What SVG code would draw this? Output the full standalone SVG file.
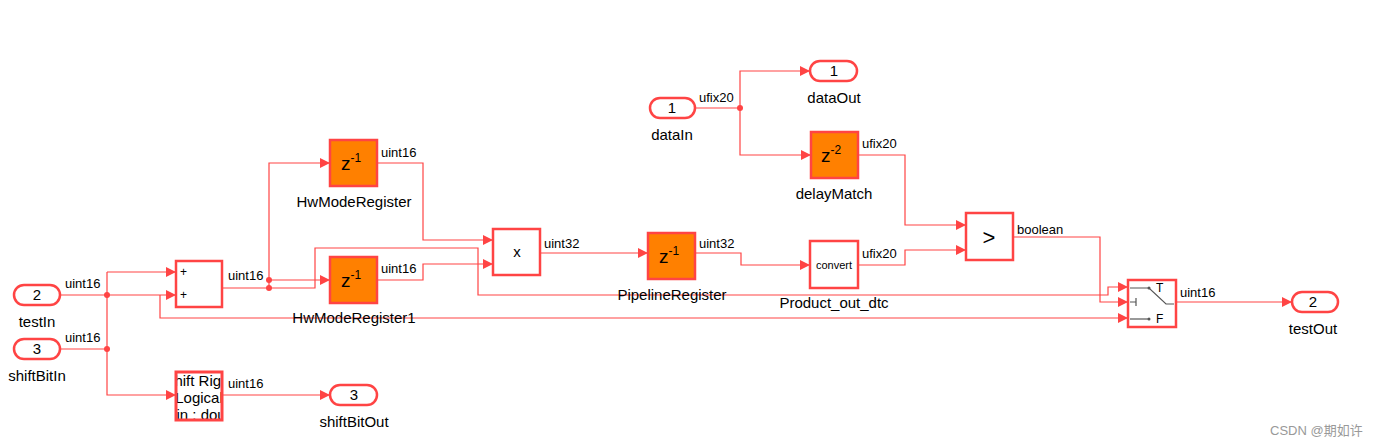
<svg xmlns="http://www.w3.org/2000/svg" width="1386" height="447" viewBox="0 0 1386 447">
<style>
text{font-family:"Liberation Sans",Arial,sans-serif;fill:#000}
.b{fill:#fff;stroke:#f44;stroke-width:2.5}
.o{fill:#ff8000;stroke:#f44;stroke-width:2.5}
.p{fill:#fff;stroke:#f44;stroke-width:2.5}
.w{fill:none;stroke:#f44;stroke-width:1.2}
.l{font-size:13px}
.n{font-size:15px;text-anchor:middle}
.s{font-size:12px}
.z{font-size:19px}
</style>
<defs><marker id="a" viewBox="0 0 10 10" refX="10" refY="5" markerWidth="10" markerHeight="10" markerUnits="userSpaceOnUse" orient="auto"><path d="M0,0L10,5L0,10z" fill="#f44"/></marker></defs>
<g id="connectors" class="w">
<g marker-end="url(#a)">
<path d="M60,295H176"/>
<path d="M107,272H176"/>
<path d="M107,349V395H176"/>
<path d="M160,295V318H1128"/>
<path d="M222,288H269V280H330"/>
<path d="M269,280V163H330"/>
<path d="M269,288H315V248H478V295H1108V287H1128"/>
<path d="M377,163H423V240H493"/>
<path d="M377,280H423V264H493"/>
<path d="M540,253H648"/>
<path d="M695,253H741V265H810"/>
<path d="M858,265H905V250H966"/>
<path d="M858,155H905V225H966"/>
<path d="M695,108H740V71H810"/>
<path d="M740,108V155H811"/>
<path d="M1013,237H1100V302H1128"/>
<path d="M1176,302H1292"/>
<path d="M222,395H330"/>
</g>
<path d="M107,272V349"/>
<path d="M60,349H107"/>
</g>
<g fill="#f44"><circle cx="107" cy="295" r="3"/><circle cx="107" cy="349" r="3"/><circle cx="269" cy="280" r="3"/><circle cx="269" cy="288" r="3"/><circle cx="740" cy="108" r="3"/></g>
<g id="testIn"><rect class="p" x="14" y="285" width="46" height="20" rx="10"/><text class="n" x="37" y="300">2</text><text class="n" x="37" y="327">testIn</text></g>
<g id="shiftBitIn"><rect class="p" x="14" y="339" width="46" height="20" rx="10"/><text class="n" x="37" y="354">3</text><text class="n" x="37" y="381">shiftBitIn</text></g>
<g id="sum"><rect class="b" x="176" y="261" width="46" height="46"/><text class="s" x="180" y="276">+</text><text class="s" x="180" y="299">+</text></g>
<g id="shift"><svg x="177" y="373" width="44" height="46" overflow="hidden"><text class="n" x="22" y="13">Shift Right</text><text class="n" x="22" y="30">Logical</text><text class="n" x="22" y="47">din : dout</text></svg><rect x="176" y="372" width="46" height="48" style="fill:none;stroke:#f44;stroke-width:3"/></g>
<g id="shiftBitOut"><rect class="p" x="330" y="385" width="47" height="20" rx="10"/><text class="n" x="354" y="400">3</text><text class="n" x="354" y="427">shiftBitOut</text></g>
<g id="HwModeRegister"><rect class="o" x="330" y="140" width="47" height="46"/><text class="z" x="341" y="170">z<tspan font-size="12" dy="-8">-1</tspan></text><text class="n" x="354" y="207">HwModeRegister</text></g>
<g id="HwModeRegister1"><rect class="o" x="330" y="257" width="47" height="46"/><text class="z" x="341" y="287">z<tspan font-size="12" dy="-8">-1</tspan></text><text class="n" x="354" y="323">HwModeRegister1</text></g>
<g id="product"><rect class="b" x="493" y="229" width="47" height="46"/><text class="n" x="517" y="257">x</text></g>
<g id="PipelineRegister"><rect class="o" x="648" y="233" width="47" height="46"/><text class="z" x="659" y="263">z<tspan font-size="12" dy="-8">-1</tspan></text><text class="n" x="672" y="300">PipelineRegister</text></g>
<g id="convert"><rect class="b" x="810" y="241" width="48" height="47"/><text x="834" y="269" font-size="11" text-anchor="middle">convert</text><text class="n" x="834" y="308">Product_out_dtc</text></g>
<g id="dataIn"><rect class="p" x="650" y="98" width="45" height="20" rx="10"/><text class="n" x="672" y="113">1</text><text class="n" x="672" y="140">dataIn</text></g>
<g id="dataOut"><rect class="p" x="810" y="61" width="47" height="20" rx="10"/><text class="n" x="834" y="76">1</text><text class="n" x="834" y="103">dataOut</text></g>
<g id="delayMatch"><rect class="o" x="811" y="132" width="47" height="46"/><text class="z" x="821" y="162">z<tspan font-size="12" dy="-8">-2</tspan></text><text class="n" x="834" y="199">delayMatch</text></g>
<g id="compare"><rect class="b" x="966" y="213" width="47" height="47"/><text x="989" y="245" font-size="22" text-anchor="middle">&gt;</text></g>
<g id="switch"><rect class="b" x="1128" y="280" width="48" height="47"/><g stroke="#555" stroke-width="1.2" fill="none"><path d="M1130,288H1149L1166,304H1174"/><path d="M1130,302H1136M1136,298V306"/><path d="M1130,319H1149"/></g><circle cx="1149" cy="288" r="1.5" fill="#555"/><circle cx="1149" cy="319" r="1.5" fill="#555"/><text class="s" x="1156" y="292">T</text><text class="s" x="1156" y="323">F</text></g>
<g id="testOut"><rect class="p" x="1292" y="292" width="46" height="20" rx="10"/><text class="n" x="1313" y="307">2</text><text class="n" x="1313" y="334">testOut</text></g>
<g id="labels" class="l">
<text x="65" y="288">uint16</text><text x="65" y="342">uint16</text><text x="228" y="280">uint16</text><text x="228" y="388">uint16</text>
<text x="381" y="157">uint16</text><text x="381" y="273">uint16</text><text x="544" y="248">uint32</text><text x="699" y="248">uint32</text>
<text x="862" y="258">ufix20</text><text x="862" y="148">ufix20</text><text x="699" y="102">ufix20</text><text x="1017" y="234">boolean</text><text x="1180" y="297">uint16</text>
</g>
<text x="1270" y="435" font-size="13" style="fill:#999;font-family:'Liberation Sans','Noto Sans CJK SC',sans-serif">CSDN @期如许</text>
</svg>
